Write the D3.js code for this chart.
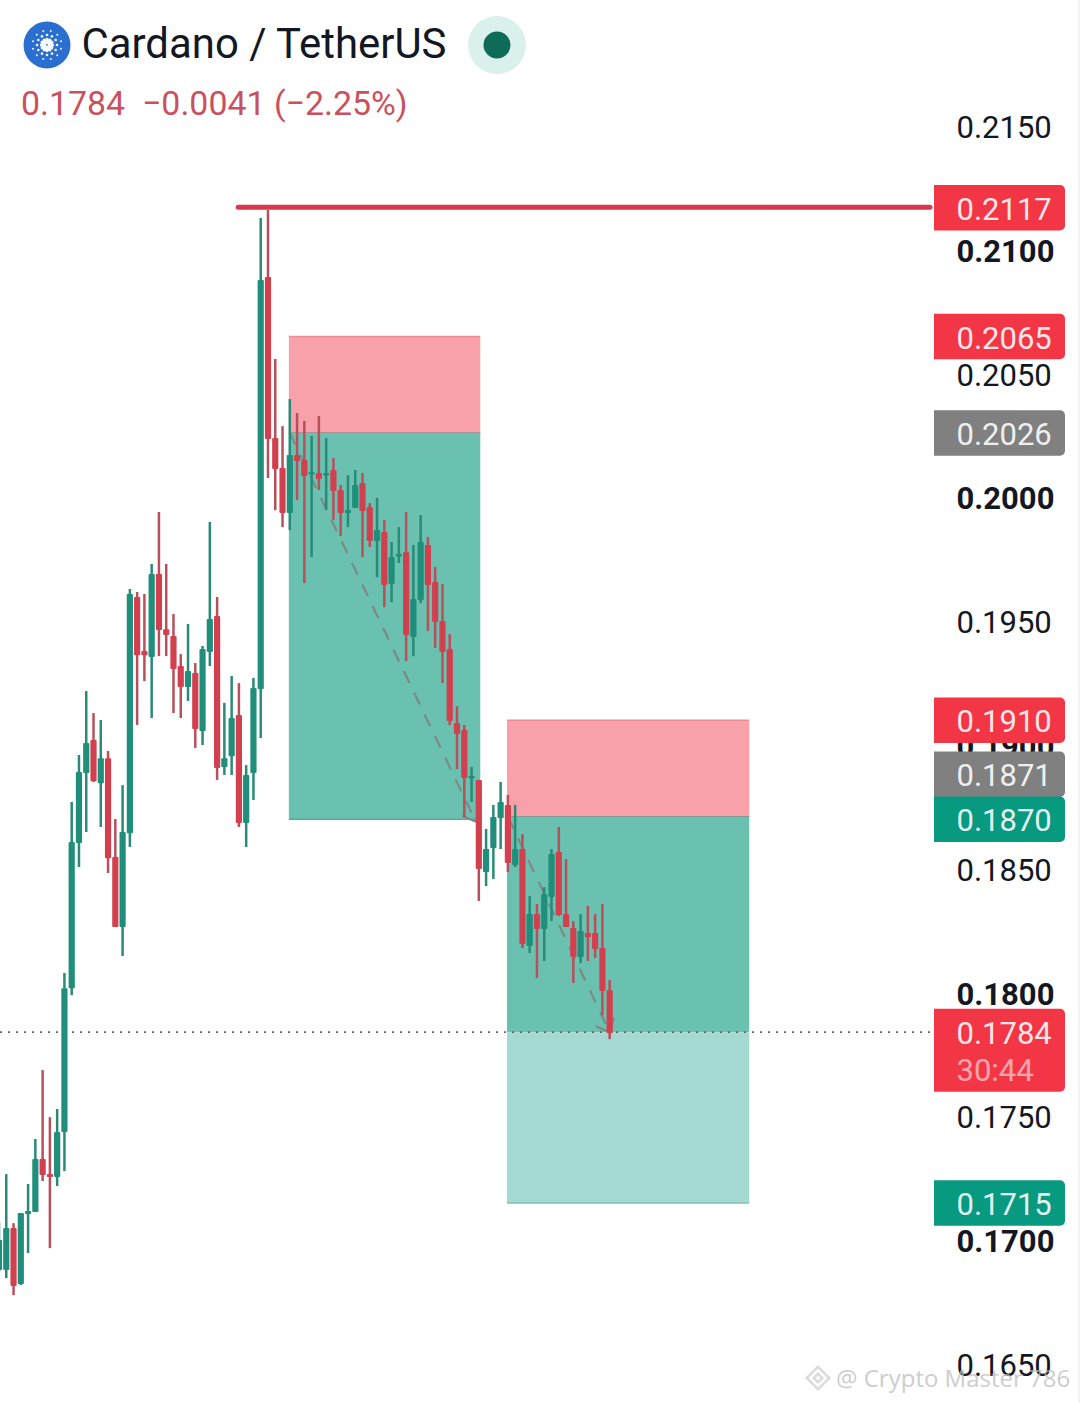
<!DOCTYPE html>
<html><head><meta charset="utf-8">
<script src="https://cdn.jsdelivr.net/npm/d3@7"></script>
<style>
html,body{margin:0;padding:0;background:#fff}
svg{display:block}
text{font-family:Roboto,sans-serif}
</style></head><body><svg id="c" width="1080" height="1403"></svg>
<script>
const opens=[.16884,.16884,.17053,.16827,.17110,.17118,.17332,.17271,.17259,.17441,.18022,.18608,.18891,.19024,.18850,.18951,.18552,.18269,.18648,.19602,.19384,.19359,.19695,.19472,.19444,.19323,.19238,.19295,.19061,.19380,.19525,.18915,.18959,.19125,.18689,.18891,.19230,.20894,.20244,.20123,.19941,.20175,.20155,.20098,.20103,.20094,.20115,.20034,.19941,.19961,.20062,.19965,.19828,.19864,.19654,.19771,.19783,.19440,.19590,.19812,.19662,.19505,.19392,.19093,.19065,.18875,.18863,.18491,.18588,.18709,.18762,.18519,.18584,.18192,.18321,.18261,.18390,.18572,.18321,.18265,.18148,.18245,.18245,.18184,.18014];
const closes=[.17005,.17053,.16819,.17114,.17122,.17332,.17267,.17259,.17441,.18022,.18612,.18895,.19012,.18858,.18951,.18547,.18269,.18653,.19614,.19367,.19367,.19695,.19468,.19448,.19311,.19238,.19303,.19069,.19392,.19513,.18911,.18951,.19113,.18689,.18883,.19234,.20882,.20240,.20119,.19941,.20175,.20151,.20090,.20107,.20078,.20103,.20030,.19941,.19953,.20054,.19949,.19828,.19872,.19650,.19763,.19775,.19448,.19594,.19824,.19650,.19501,.19380,.19101,.19048,.18871,.18879,.18503,.18584,.18713,.18774,.18527,.18584,.18200,.18321,.18261,.18402,.18564,.18317,.18269,.18148,.18253,.18228,.18180,.18010,.17840];
const highs=[.17077,.17271,.17073,.17114,.17231,.17413,.17691,.17501,.17534,.18083,.18774,.18964,.19222,.19133,.19105,.18980,.18705,.18842,.19634,.19622,.19614,.19735,.19945,.19735,.19533,.19371,.19493,.19335,.19404,.19905,.19602,.19174,.19283,.19254,.18923,.19275,.21132,.21165,.20563,.20292,.20401,.20345,.20313,.20252,.20333,.20244,.20163,.20054,.20094,.20115,.20103,.19981,.20002,.19913,.19824,.19884,.19945,.19812,.19933,.19844,.19723,.19654,.19452,.19161,.19085,.18915,.18863,.18665,.18762,.18855,.18802,.18762,.18644,.18394,.18362,.18430,.18584,.18673,.18543,.18293,.18321,.18354,.18321,.18362,.18055];
const lows=[.16875,.16851,.16782,.16823,.16952,.17118,.17243,.16972,.17223,.17283,.17994,.18511,.18653,.18855,.18673,.18487,.18269,.18152,.18592,.19085,.19262,.19113,.19363,.19363,.19133,.19113,.19182,.18992,.19004,.19323,.18863,.18883,.18883,.18673,.18592,.18782,.19032,.20082,.19953,.19884,.19872,.19993,.19658,.19763,.20034,.19953,.19913,.19848,.19884,.19961,.19763,.19804,.19682,.19561,.19581,.19739,.19343,.19363,.19577,.19464,.19396,.19254,.19085,.18907,.18713,.18774,.18374,.18434,.18463,.18584,.18491,.18511,.18184,.18164,.18063,.18132,.18293,.18313,.18269,.18043,.18123,.18132,.18144,.17913,.17816];
const tickValues=[.215,.21,.205,.2,.195,.19,.185,.18,.175,.17,.165];
const boldTicks=[.21,.2,.19,.18,.17];
const boxStart=[39.87,69.87], boxEnd=[66.2,103.2];
const stopTop=[.2065,.1910], entry=[.2026,.1871], target=[.1870,.1784], extraTarget=[null,.1715];
const tagValues=[.2117,.2065,.2026,.1910,.1871,.1870,.1784,.1715];
const tagKinds=["red","red","gray","red","gray","green","red","green"];
const arrowIdx=[[40,65.6],[70,84]], arrowPrice=[[.2026,.1869],[.1871,.1784]];
const lastPrice=.1784, hLinePrice=.2117, hLineStart=32.9;

const svg=d3.select("#c");
const x=d3.scaleLinear().domain([0,84]).range([-1,609.68]);
const y=d3.scaleLinear().domain([.165,.215]).range([1364,126]);
const tagFill={red:"#F23645",gray:"#808080",green:"#089981"};
const UP="#1F8F7B",DN="#D2404F",UPW="#2A8A78",DNW="#B8505C";

// header
const head=svg.append("g");
head.append("circle").attr("cx",47).attr("cy",45).attr("r",23.5).attr("fill","#2A6FD0");
[[0,2.4,6],[5.5,1.7,6],[5.5,1.7,6,30],[10,1.3,12],[14.5,1,12,15]].forEach(([r,s,n,o=0])=>{
  d3.range(n).forEach(k=>{const a=(k*360/n+o)*Math.PI/180;
    head.append("circle").attr("cx",47+r*Math.cos(a)+(r?0:3.2*Math.cos(a))).attr("cy",45+r*Math.sin(a)+(r?0:3.2*Math.sin(a))).attr("r",s).attr("fill","#fff").attr("opacity",.95);});
});
head.append("text").attr("x",81.5).attr("y",58).attr("font-size",41.9).attr("fill","#131722").text("Cardano / TetherUS");
head.append("circle").attr("cx",497).attr("cy",45).attr("r",29).attr("fill","#DAF0EC");
head.append("circle").attr("cx",497).attr("cy",45).attr("r",13.5).attr("fill","#0E6B57");
head.append("text").attr("x",21).attr("y",115).attr("font-size",33.9).attr("fill","#C9515E").style("white-space","pre").text("0.1784  \u22120.0041 (\u22122.25%)");

// position boxes
const boxes=svg.append("g");
function box(i,a,b,fill,edge){
  boxes.append("rect").attr("x",x(boxStart[i])).attr("width",x(boxEnd[i])-x(boxStart[i]))
    .attr("y",y(a)).attr("height",y(b)-y(a)).attr("fill",fill);
  if(edge) boxes.append("line").attr("x1",x(boxStart[i])).attr("x2",x(boxEnd[i])).attr("y1",y(b)).attr("y2",y(b)).attr("stroke",edge).attr("stroke-width",1.5);
}
boxStart.forEach((_,i)=>{
  box(i,stopTop[i],entry[i],"#F8A1AA","#8E8E8E");
  box(i,entry[i],target[i],"#6AC1B0",i==0?"#5BAA9C":null);
  if(extraTarget[i]!==null) box(i,target[i],extraTarget[i],"#A5DAD2","#7CC4B8");
  boxes.append("line").attr("x1",x(boxStart[i])).attr("x2",x(boxEnd[i])).attr("y1",y(stopTop[i])).attr("y2",y(stopTop[i])).attr("stroke","#EC8C97").attr("stroke-width",1.5);
});

// dashed trade paths
const paths=svg.append("g").attr("fill","none").attr("stroke","#7C8A86").attr("stroke-width",2.2);
arrowIdx.forEach((ix,i)=>{
  const x1=x(ix[0]),y1=y(arrowPrice[i][0]),x2=x(ix[1]),y2=y(arrowPrice[i][1]);
  paths.append("line").attr("x1",x1).attr("y1",y1).attr("x2",x2).attr("y2",y2).attr("stroke-dasharray","13 11");
  const a=Math.atan2(y2-y1,x2-x1);
  [-.72,.72].forEach(d=>{paths.append("line").attr("x1",x2).attr("y1",y2)
    .attr("x2",x2-15*Math.cos(a+d)).attr("y2",y2-15*Math.sin(a+d));});
});

// last price dotted line
svg.append("line").attr("x1",0).attr("x2",932).attr("y1",y(lastPrice)).attr("y2",y(lastPrice))
  .attr("stroke","#666").attr("stroke-width",1.8).attr("stroke-dasharray","2 6");

// candles
const idx=d3.range(opens.length);
const cg=svg.append("g").attr("transform","translate(0,1)");
cg.selectAll(".w").data(idx).join("line").attr("class","w")
  .attr("x1",i=>x(i)).attr("x2",i=>x(i)).attr("y1",i=>y(highs[i])).attr("y2",i=>y(lows[i]))
  .attr("stroke",i=>closes[i]<opens[i]?DNW:UPW).attr("stroke-width",2.5);
cg.selectAll(".b").data(idx).join("rect").attr("class","b")
  .attr("x",i=>x(i)-3.1).attr("width",6.2).attr("rx",1)
  .attr("y",i=>y(Math.max(opens[i],closes[i])))
  .attr("height",i=>Math.max(2.5,Math.abs(y(opens[i])-y(closes[i]))))
  .attr("fill",i=>closes[i]<opens[i]?DN:UP);

// horizontal resistance line
svg.append("line").attr("x1",x(hLineStart)).attr("x2",930).attr("y1",y(hLinePrice)-.5).attr("y2",y(hLinePrice)-.5)
  .attr("stroke","#D9394D").attr("stroke-width",5).attr("stroke-linecap","round");

// price axis
const axis=d3.axisRight(y).tickValues(tickValues).tickFormat(d3.format(".4f")).tickSize(0).tickPadding(0);
const ag=svg.append("g").attr("transform","translate(956.5,1.6)").call(axis);
ag.select(".domain").remove();
ag.selectAll("text").attr("font-size",31).attr("fill","#131722").style("font-family","Roboto,sans-serif")
  .attr("font-weight",d=>boldTicks.includes(d)?700:400);

// price tags; a tag that would collide with the one below is stacked above it
const H=45.5;
const centers=tagValues.map(v=>y(v));
for(let i=tagValues.length-2;i>=0;i--){ if(centers[i]+H>centers[i+1]&&i!==5) centers[i]=centers[i+1]-H+.5; }
const tags=svg.append("g");
tagValues.forEach((v,i)=>{
  const c=centers[i],two=i===6,top=c-(two?23.5:H/2),h=two?83:H;
  tags.append("path").attr("fill",tagFill[tagKinds[i]])
    .attr("d",`M934 ${top}H1060a5 5 0 0 1 5 5V${top+h-5}a5 5 0 0 1 -5 5H934Z`);
  tags.append("text").attr("x",956.5).attr("y",c+1).attr("dy",".36em").attr("font-size",31).attr("fill","#fff").attr("opacity",.88).text(d3.format(".4f")(v));
  if(two) tags.append("text").attr("x",956.5).attr("y",c+38).attr("dy",".36em").attr("font-size",31).attr("fill","#fff").attr("opacity",.55).text("30:44");
});

// edge + watermark
svg.append("line").attr("x1",1079).attr("x2",1079).attr("y1",0).attr("y2",1403).attr("stroke","#EEE").attr("stroke-width",1.5);
const wm=svg.append("g").attr("opacity",.75);
const ic=wm.append("g").attr("transform","translate(818,1378) rotate(45)").attr("fill","none").attr("stroke","#CFCFCF").attr("stroke-width",2.5);
ic.append("rect").attr("x",-8).attr("y",-8).attr("width",16).attr("height",16);
ic.append("rect").attr("x",-3).attr("y",-3).attr("width",6).attr("height",6);
wm.append("text").attr("x",836).attr("y",1387).attr("font-size",24).attr("fill","#BDBDBD").style("font-family","'Open Sans',sans-serif").text("@ Crypto Master 786");
</script></body></html>
